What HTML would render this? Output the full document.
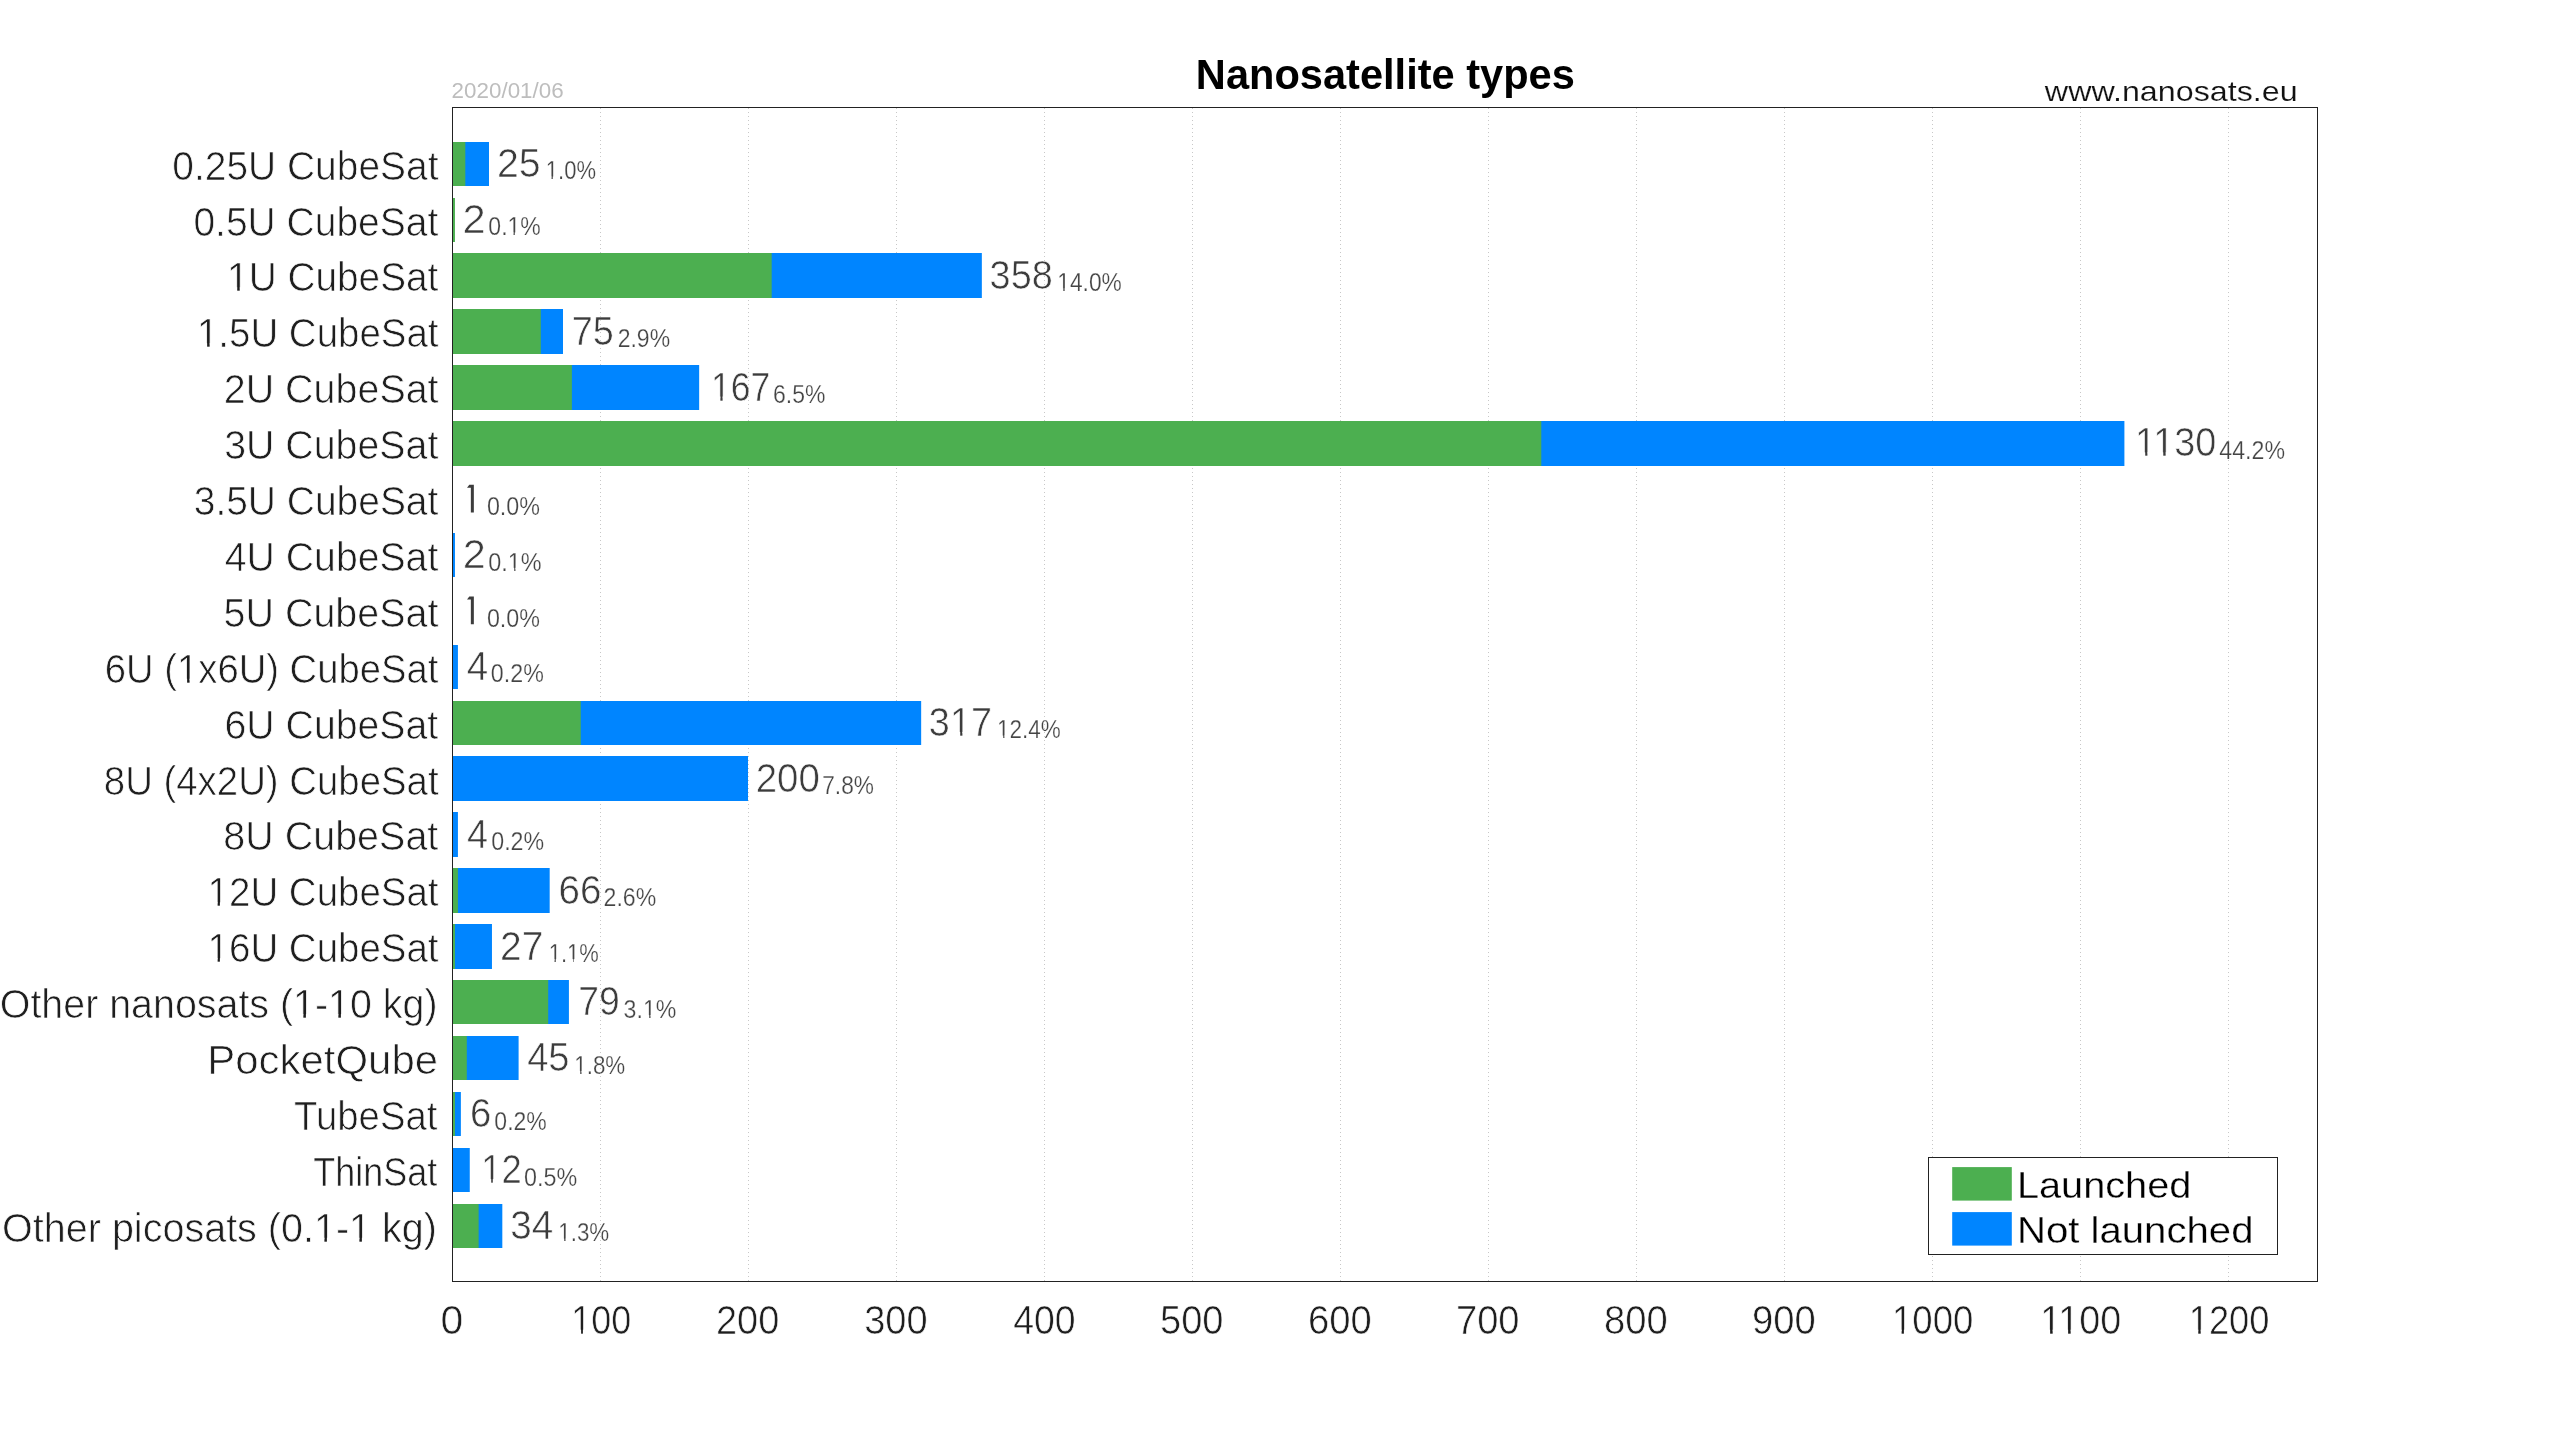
<!DOCTYPE html><html><head><meta charset="utf-8"><title>Nanosatellite types</title>
<style>html,body{margin:0;padding:0;background:#fff;width:2560px;height:1440px;overflow:hidden}svg{display:block}text{font-family:"Liberation Sans",sans-serif;white-space:pre}</style></head><body>
<svg width="2560" height="1440" viewBox="0 0 2560 1440" style="will-change:transform">
<rect x="0" y="0" width="2560" height="1440" fill="#fff"/>
<g shape-rendering="crispEdges"><line x1="600.5" y1="108" x2="600.5" y2="1281" stroke="#c8c8c8" stroke-width="1" stroke-dasharray="1 3"/><line x1="748.5" y1="108" x2="748.5" y2="1281" stroke="#c8c8c8" stroke-width="1" stroke-dasharray="1 3"/><line x1="896.5" y1="108" x2="896.5" y2="1281" stroke="#c8c8c8" stroke-width="1" stroke-dasharray="1 3"/><line x1="1044.5" y1="108" x2="1044.5" y2="1281" stroke="#c8c8c8" stroke-width="1" stroke-dasharray="1 3"/><line x1="1192.5" y1="108" x2="1192.5" y2="1281" stroke="#c8c8c8" stroke-width="1" stroke-dasharray="1 3"/><line x1="1340.5" y1="108" x2="1340.5" y2="1281" stroke="#c8c8c8" stroke-width="1" stroke-dasharray="1 3"/><line x1="1488.5" y1="108" x2="1488.5" y2="1281" stroke="#c8c8c8" stroke-width="1" stroke-dasharray="1 3"/><line x1="1636.5" y1="108" x2="1636.5" y2="1281" stroke="#c8c8c8" stroke-width="1" stroke-dasharray="1 3"/><line x1="1784.5" y1="108" x2="1784.5" y2="1281" stroke="#c8c8c8" stroke-width="1" stroke-dasharray="1 3"/><line x1="1932.5" y1="108" x2="1932.5" y2="1281" stroke="#c8c8c8" stroke-width="1" stroke-dasharray="1 3"/><line x1="2080.5" y1="108" x2="2080.5" y2="1281" stroke="#c8c8c8" stroke-width="1" stroke-dasharray="1 3"/><line x1="2228.5" y1="108" x2="2228.5" y2="1281" stroke="#c8c8c8" stroke-width="1" stroke-dasharray="1 3"/></g>
<g><rect x="452.00" y="142" width="37.00" height="44" fill="#0085ff"/><rect x="452.00" y="142" width="13.32" height="44" fill="#4caf50"/><rect x="452.00" y="198" width="2.96" height="44" fill="#4caf50"/><rect x="452.00" y="253" width="529.84" height="45" fill="#0085ff"/><rect x="452.00" y="253" width="319.68" height="45" fill="#4caf50"/><rect x="452.00" y="309" width="111.00" height="45" fill="#0085ff"/><rect x="452.00" y="309" width="88.80" height="45" fill="#4caf50"/><rect x="452.00" y="365" width="247.16" height="45" fill="#0085ff"/><rect x="452.00" y="365" width="119.88" height="45" fill="#4caf50"/><rect x="452.00" y="421" width="1672.40" height="45" fill="#0085ff"/><rect x="452.00" y="421" width="1089.28" height="45" fill="#4caf50"/><rect x="452.00" y="533" width="2.96" height="44" fill="#0085ff"/><rect x="452.00" y="645" width="5.92" height="44" fill="#0085ff"/><rect x="452.00" y="701" width="469.16" height="44" fill="#0085ff"/><rect x="452.00" y="701" width="128.76" height="44" fill="#4caf50"/><rect x="452.00" y="756" width="296.00" height="45" fill="#0085ff"/><rect x="452.00" y="812" width="5.92" height="45" fill="#0085ff"/><rect x="452.00" y="868" width="97.68" height="45" fill="#0085ff"/><rect x="452.00" y="868" width="5.92" height="45" fill="#4caf50"/><rect x="452.00" y="924" width="39.96" height="45" fill="#0085ff"/><rect x="452.00" y="924" width="2.96" height="45" fill="#4caf50"/><rect x="452.00" y="980" width="116.92" height="44" fill="#0085ff"/><rect x="452.00" y="980" width="96.20" height="44" fill="#4caf50"/><rect x="452.00" y="1036" width="66.60" height="44" fill="#0085ff"/><rect x="452.00" y="1036" width="14.80" height="44" fill="#4caf50"/><rect x="452.00" y="1092" width="8.88" height="44" fill="#0085ff"/><rect x="452.00" y="1092" width="2.96" height="44" fill="#4caf50"/><rect x="452.00" y="1148" width="17.76" height="44" fill="#0085ff"/><rect x="452.00" y="1204" width="50.32" height="44" fill="#0085ff"/><rect x="452.00" y="1204" width="26.64" height="44" fill="#4caf50"/></g>
<rect x="452.5" y="107.5" width="1865" height="1174" fill="none" stroke="#222" stroke-width="1" shape-rendering="crispEdges"/>
<rect x="1928.5" y="1157.5" width="349" height="97" fill="#fff" stroke="#222" stroke-width="1" shape-rendering="crispEdges"/>
<rect x="1952.2" y="1167.1" width="59.6" height="33.5" fill="#4caf50"/>
<rect x="1952.2" y="1212.1" width="59.6" height="33.5" fill="#0085ff"/>
<text x="172.34" y="179.65" font-size="40" fill="#1e1e1e" stroke="#fff" stroke-width="0.7" textLength="266.13" lengthAdjust="spacingAndGlyphs">0.25U CubeSat</text>
<text x="496.96" y="176.90" font-size="40" fill="#3c3c3c" stroke="#fff" stroke-width="0.6" textLength="43.62" lengthAdjust="spacingAndGlyphs">25</text>
<text x="545.87" y="179.32" font-size="25.7" fill="#444444" stroke="#fff" stroke-width="0.25" textLength="50.17" lengthAdjust="spacingAndGlyphs">1.0%</text>
<text x="193.45" y="235.55" font-size="40" fill="#1e1e1e" stroke="#fff" stroke-width="0.7" textLength="244.82" lengthAdjust="spacingAndGlyphs">0.5U CubeSat</text>
<text x="462.55" y="232.80" font-size="40" fill="#3c3c3c" stroke="#fff" stroke-width="0.6" textLength="23.13" lengthAdjust="spacingAndGlyphs">2</text>
<text x="488.35" y="235.22" font-size="25.7" fill="#444444" stroke="#fff" stroke-width="0.25" textLength="52.44" lengthAdjust="spacingAndGlyphs">0.1%</text>
<text x="227.09" y="291.45" font-size="40" fill="#1e1e1e" stroke="#fff" stroke-width="0.7" textLength="211.30" lengthAdjust="spacingAndGlyphs">1U CubeSat</text>
<text x="989.60" y="288.70" font-size="40" fill="#3c3c3c" stroke="#fff" stroke-width="0.6" textLength="63.17" lengthAdjust="spacingAndGlyphs">358</text>
<text x="1057.25" y="291.12" font-size="25.7" fill="#444444" stroke="#fff" stroke-width="0.25" textLength="64.53" lengthAdjust="spacingAndGlyphs">14.0%</text>
<text x="196.92" y="347.35" font-size="40" fill="#1e1e1e" stroke="#fff" stroke-width="0.7" textLength="241.65" lengthAdjust="spacingAndGlyphs">1.5U CubeSat</text>
<text x="571.75" y="344.60" font-size="40" fill="#3c3c3c" stroke="#fff" stroke-width="0.6" textLength="42.11" lengthAdjust="spacingAndGlyphs">75</text>
<text x="617.69" y="347.02" font-size="25.7" fill="#444444" stroke="#fff" stroke-width="0.25" textLength="52.43" lengthAdjust="spacingAndGlyphs">2.9%</text>
<text x="223.78" y="403.25" font-size="40" fill="#1e1e1e" stroke="#fff" stroke-width="0.7" textLength="214.80" lengthAdjust="spacingAndGlyphs">2U CubeSat</text>
<text x="711.00" y="400.50" font-size="40" fill="#3c3c3c" stroke="#fff" stroke-width="0.6" textLength="59.17" lengthAdjust="spacingAndGlyphs">167</text>
<text x="772.97" y="402.92" font-size="25.7" fill="#444444" stroke="#fff" stroke-width="0.25" textLength="52.39" lengthAdjust="spacingAndGlyphs">6.5%</text>
<text x="224.14" y="459.15" font-size="40" fill="#1e1e1e" stroke="#fff" stroke-width="0.7" textLength="214.27" lengthAdjust="spacingAndGlyphs">3U CubeSat</text>
<text x="2134.97" y="456.40" font-size="40" fill="#3c3c3c" stroke="#fff" stroke-width="0.6" textLength="81.30" lengthAdjust="spacingAndGlyphs">1130</text>
<text x="2219.33" y="458.82" font-size="25.7" fill="#444444" stroke="#fff" stroke-width="0.25" textLength="65.65" lengthAdjust="spacingAndGlyphs">44.2%</text>
<text x="193.76" y="515.05" font-size="40" fill="#1e1e1e" stroke="#fff" stroke-width="0.7" textLength="244.58" lengthAdjust="spacingAndGlyphs">3.5U CubeSat</text>
<path d="M470.85 484.80H473.85V512.40H470.85V487.80H467.0L469.3 484.80Z" fill="#3c3c3c"/>
<text x="486.92" y="514.72" font-size="25.7" fill="#444444" stroke="#fff" stroke-width="0.25" textLength="53.12" lengthAdjust="spacingAndGlyphs">0.0%</text>
<text x="224.79" y="570.95" font-size="40" fill="#1e1e1e" stroke="#fff" stroke-width="0.7" textLength="213.53" lengthAdjust="spacingAndGlyphs">4U CubeSat</text>
<text x="462.75" y="568.20" font-size="40" fill="#3c3c3c" stroke="#fff" stroke-width="0.6" textLength="23.01" lengthAdjust="spacingAndGlyphs">2</text>
<text x="488.13" y="570.62" font-size="25.7" fill="#444444" stroke="#fff" stroke-width="0.25" textLength="53.38" lengthAdjust="spacingAndGlyphs">0.1%</text>
<text x="223.56" y="626.85" font-size="40" fill="#1e1e1e" stroke="#fff" stroke-width="0.7" textLength="214.85" lengthAdjust="spacingAndGlyphs">5U CubeSat</text>
<path d="M470.85 596.60H473.85V624.20H470.85V599.60H467.0L469.3 596.60Z" fill="#3c3c3c"/>
<text x="486.92" y="626.52" font-size="25.7" fill="#444444" stroke="#fff" stroke-width="0.25" textLength="53.12" lengthAdjust="spacingAndGlyphs">0.0%</text>
<text x="104.79" y="682.75" font-size="40" fill="#1e1e1e" stroke="#fff" stroke-width="0.7" textLength="333.59" lengthAdjust="spacingAndGlyphs">6U (1x6U) CubeSat</text>
<text x="466.74" y="680.00" font-size="40" fill="#3c3c3c" stroke="#fff" stroke-width="0.6" textLength="21.43" lengthAdjust="spacingAndGlyphs">4</text>
<text x="490.85" y="682.42" font-size="25.7" fill="#444444" stroke="#fff" stroke-width="0.25" textLength="52.98" lengthAdjust="spacingAndGlyphs">0.2%</text>
<text x="224.51" y="738.65" font-size="40" fill="#1e1e1e" stroke="#fff" stroke-width="0.7" textLength="213.78" lengthAdjust="spacingAndGlyphs">6U CubeSat</text>
<text x="928.86" y="735.90" font-size="40" fill="#3c3c3c" stroke="#fff" stroke-width="0.6" textLength="63.13" lengthAdjust="spacingAndGlyphs">317</text>
<text x="996.92" y="738.33" font-size="25.7" fill="#444444" stroke="#fff" stroke-width="0.25" textLength="63.71" lengthAdjust="spacingAndGlyphs">12.4%</text>
<text x="103.84" y="794.55" font-size="40" fill="#1e1e1e" stroke="#fff" stroke-width="0.7" textLength="334.71" lengthAdjust="spacingAndGlyphs">8U (4x2U) CubeSat</text>
<text x="755.66" y="791.80" font-size="40" fill="#3c3c3c" stroke="#fff" stroke-width="0.6" textLength="64.14" lengthAdjust="spacingAndGlyphs">200</text>
<text x="822.23" y="794.22" font-size="25.7" fill="#444444" stroke="#fff" stroke-width="0.25" textLength="51.71" lengthAdjust="spacingAndGlyphs">7.8%</text>
<text x="223.31" y="850.45" font-size="40" fill="#1e1e1e" stroke="#fff" stroke-width="0.7" textLength="215.03" lengthAdjust="spacingAndGlyphs">8U CubeSat</text>
<text x="467.02" y="847.70" font-size="40" fill="#3c3c3c" stroke="#fff" stroke-width="0.6" textLength="21.02" lengthAdjust="spacingAndGlyphs">4</text>
<text x="491.22" y="850.12" font-size="25.7" fill="#444444" stroke="#fff" stroke-width="0.25" textLength="52.91" lengthAdjust="spacingAndGlyphs">0.2%</text>
<text x="207.61" y="906.35" font-size="40" fill="#1e1e1e" stroke="#fff" stroke-width="0.7" textLength="230.95" lengthAdjust="spacingAndGlyphs">12U CubeSat</text>
<text x="558.62" y="903.60" font-size="40" fill="#3c3c3c" stroke="#fff" stroke-width="0.6" textLength="42.91" lengthAdjust="spacingAndGlyphs">66</text>
<text x="603.59" y="906.02" font-size="25.7" fill="#444444" stroke="#fff" stroke-width="0.25" textLength="52.69" lengthAdjust="spacingAndGlyphs">2.6%</text>
<text x="207.61" y="962.25" font-size="40" fill="#1e1e1e" stroke="#fff" stroke-width="0.7" textLength="230.95" lengthAdjust="spacingAndGlyphs">16U CubeSat</text>
<text x="500.09" y="959.50" font-size="40" fill="#3c3c3c" stroke="#fff" stroke-width="0.6" textLength="43.31" lengthAdjust="spacingAndGlyphs">27</text>
<text x="548.78" y="961.92" font-size="25.7" fill="#444444" stroke="#fff" stroke-width="0.25" textLength="50.06" lengthAdjust="spacingAndGlyphs">1.1%</text>
<text x="-0.26" y="1018.15" font-size="40" fill="#1e1e1e" stroke="#fff" stroke-width="0.7" textLength="437.79" lengthAdjust="spacingAndGlyphs">Other nanosats (1-10 kg)</text>
<text x="578.35" y="1015.40" font-size="40" fill="#3c3c3c" stroke="#fff" stroke-width="0.6" textLength="41.49" lengthAdjust="spacingAndGlyphs">79</text>
<text x="623.60" y="1017.83" font-size="25.7" fill="#444444" stroke="#fff" stroke-width="0.25" textLength="52.76" lengthAdjust="spacingAndGlyphs">3.1%</text>
<text x="207.33" y="1074.05" font-size="40" fill="#1e1e1e" stroke="#fff" stroke-width="0.7" textLength="230.74" lengthAdjust="spacingAndGlyphs">PocketQube</text>
<text x="527.15" y="1071.30" font-size="40" fill="#3c3c3c" stroke="#fff" stroke-width="0.6" textLength="42.38" lengthAdjust="spacingAndGlyphs">45</text>
<text x="574.27" y="1073.72" font-size="25.7" fill="#444444" stroke="#fff" stroke-width="0.25" textLength="50.99" lengthAdjust="spacingAndGlyphs">1.8%</text>
<text x="293.99" y="1129.95" font-size="40" fill="#1e1e1e" stroke="#fff" stroke-width="0.7" textLength="143.41" lengthAdjust="spacingAndGlyphs">TubeSat</text>
<text x="469.91" y="1127.20" font-size="40" fill="#3c3c3c" stroke="#fff" stroke-width="0.6" textLength="21.27" lengthAdjust="spacingAndGlyphs">6</text>
<text x="494.35" y="1129.62" font-size="25.7" fill="#444444" stroke="#fff" stroke-width="0.25" textLength="52.44" lengthAdjust="spacingAndGlyphs">0.2%</text>
<text x="313.20" y="1185.85" font-size="40" fill="#1e1e1e" stroke="#fff" stroke-width="0.7" textLength="124.03" lengthAdjust="spacingAndGlyphs">ThinSat</text>
<text x="481.17" y="1183.10" font-size="40" fill="#3c3c3c" stroke="#fff" stroke-width="0.6" textLength="40.52" lengthAdjust="spacingAndGlyphs">12</text>
<text x="524.03" y="1185.52" font-size="25.7" fill="#444444" stroke="#fff" stroke-width="0.25" textLength="53.21" lengthAdjust="spacingAndGlyphs">0.5%</text>
<text x="2.05" y="1241.75" font-size="40" fill="#1e1e1e" stroke="#fff" stroke-width="0.7" textLength="434.95" lengthAdjust="spacingAndGlyphs">Other picosats (0.1-1 kg)</text>
<text x="510.18" y="1239.00" font-size="40" fill="#3c3c3c" stroke="#fff" stroke-width="0.6" textLength="43.02" lengthAdjust="spacingAndGlyphs">34</text>
<text x="558.27" y="1241.42" font-size="25.7" fill="#444444" stroke="#fff" stroke-width="0.25" textLength="50.99" lengthAdjust="spacingAndGlyphs">1.3%</text>
<text x="440.57" y="1333.70" font-size="40" fill="#1e1e1e" stroke="#fff" stroke-width="0.6" textLength="22.77" lengthAdjust="spacingAndGlyphs">0</text>
<text x="571.30" y="1333.70" font-size="40" fill="#1e1e1e" stroke="#fff" stroke-width="0.6" textLength="59.89" lengthAdjust="spacingAndGlyphs">100</text>
<text x="715.96" y="1333.70" font-size="40" fill="#1e1e1e" stroke="#fff" stroke-width="0.6" textLength="63.32" lengthAdjust="spacingAndGlyphs">200</text>
<text x="864.13" y="1333.70" font-size="40" fill="#1e1e1e" stroke="#fff" stroke-width="0.6" textLength="63.45" lengthAdjust="spacingAndGlyphs">300</text>
<text x="1013.16" y="1333.70" font-size="40" fill="#1e1e1e" stroke="#fff" stroke-width="0.6" textLength="62.44" lengthAdjust="spacingAndGlyphs">400</text>
<text x="1159.99" y="1333.70" font-size="40" fill="#1e1e1e" stroke="#fff" stroke-width="0.6" textLength="63.51" lengthAdjust="spacingAndGlyphs">500</text>
<text x="1308.07" y="1333.70" font-size="40" fill="#1e1e1e" stroke="#fff" stroke-width="0.6" textLength="63.73" lengthAdjust="spacingAndGlyphs">600</text>
<text x="1455.99" y="1333.70" font-size="40" fill="#1e1e1e" stroke="#fff" stroke-width="0.6" textLength="63.53" lengthAdjust="spacingAndGlyphs">700</text>
<text x="1604.10" y="1333.70" font-size="40" fill="#1e1e1e" stroke="#fff" stroke-width="0.6" textLength="63.73" lengthAdjust="spacingAndGlyphs">800</text>
<text x="1752.04" y="1333.70" font-size="40" fill="#1e1e1e" stroke="#fff" stroke-width="0.6" textLength="63.72" lengthAdjust="spacingAndGlyphs">900</text>
<text x="1891.99" y="1333.70" font-size="40" fill="#1e1e1e" stroke="#fff" stroke-width="0.6" textLength="81.30" lengthAdjust="spacingAndGlyphs">1000</text>
<text x="2040.17" y="1333.70" font-size="40" fill="#1e1e1e" stroke="#fff" stroke-width="0.6" textLength="81.08" lengthAdjust="spacingAndGlyphs">1100</text>
<text x="2188.73" y="1333.70" font-size="40" fill="#1e1e1e" stroke="#fff" stroke-width="0.6" textLength="80.75" lengthAdjust="spacingAndGlyphs">1200</text>
<text x="1195.87" y="88.90" font-size="43" font-weight="bold" fill="#000" textLength="379.00" lengthAdjust="spacingAndGlyphs">Nanosatellite types</text>
<text x="451.63" y="97.90" font-size="21.5" fill="#bdbdbd" textLength="112.03" lengthAdjust="spacingAndGlyphs">2020/01/06</text>
<text x="2044.89" y="100.58" font-size="28" fill="#111" stroke="#fff" stroke-width="0.15" textLength="252.75" lengthAdjust="spacingAndGlyphs">www.nanosats.eu</text>
<text x="2016.93" y="1198.05" font-size="37.5" fill="#000" stroke="#fff" stroke-width="0.3" textLength="174.41" lengthAdjust="spacingAndGlyphs">Launched</text>
<text x="2016.98" y="1242.95" font-size="37.5" fill="#000" stroke="#fff" stroke-width="0.3" textLength="236.51" lengthAdjust="spacingAndGlyphs">Not launched</text>
<g fill="#fff"><rect x="544.87" y="176.54" width="6.68" height="4.18"/><rect x="552.76" y="176.54" width="6.36" height="4.18"/><rect x="506.53" y="232.44" width="7.02" height="4.18"/><rect x="514.76" y="232.44" width="6.57" height="4.18"/><rect x="226.09" y="287.45" width="11.12" height="5.40"/><rect x="239.72" y="287.45" width="9.94" height="5.40"/><rect x="1056.25" y="288.34" width="7.06" height="4.18"/><rect x="1064.64" y="288.34" width="6.27" height="4.18"/><rect x="195.92" y="343.35" width="11.21" height="5.40"/><rect x="209.64" y="343.35" width="9.68" height="5.40"/><rect x="710.00" y="396.50" width="10.38" height="5.40"/><rect x="722.60" y="396.50" width="9.12" height="5.40"/><rect x="2133.97" y="452.40" width="11.24" height="5.40"/><rect x="2147.40" y="452.40" width="6.80" height="5.40"/><rect x="2152.18" y="452.40" width="11.08" height="5.40"/><rect x="2165.63" y="452.40" width="9.60" height="5.40"/><rect x="506.66" y="567.84" width="7.58" height="4.18"/><rect x="515.44" y="567.84" width="6.25" height="4.18"/><rect x="176.01" y="678.75" width="11.10" height="5.40"/><rect x="189.58" y="678.75" width="9.69" height="5.40"/><rect x="948.89" y="731.90" width="11.32" height="5.40"/><rect x="962.40" y="731.90" width="9.55" height="5.40"/><rect x="995.92" y="735.55" width="7.32" height="4.18"/><rect x="1004.41" y="735.55" width="6.01" height="4.18"/><rect x="206.61" y="902.35" width="11.01" height="5.40"/><rect x="219.89" y="902.35" width="10.11" height="5.40"/><rect x="206.61" y="958.25" width="11.01" height="5.40"/><rect x="219.89" y="958.25" width="10.11" height="5.40"/><rect x="547.78" y="959.14" width="6.76" height="4.18"/><rect x="555.76" y="959.14" width="6.24" height="4.18"/><rect x="566.09" y="959.14" width="7.15" height="4.18"/><rect x="573.76" y="959.14" width="6.55" height="4.18"/><rect x="292.05" y="1014.15" width="11.30" height="5.40"/><rect x="305.89" y="1014.15" width="10.08" height="5.40"/><rect x="327.06" y="1014.15" width="11.29" height="5.40"/><rect x="340.89" y="1014.15" width="10.09" height="5.40"/><rect x="641.90" y="1015.05" width="7.34" height="4.18"/><rect x="650.52" y="1015.05" width="6.26" height="4.18"/><rect x="573.27" y="1070.94" width="6.97" height="4.18"/><rect x="581.51" y="1070.94" width="6.21" height="4.18"/><rect x="480.17" y="1179.10" width="11.04" height="5.40"/><rect x="492.79" y="1179.10" width="9.64" height="5.40"/><rect x="312.97" y="1237.75" width="11.42" height="5.40"/><rect x="326.89" y="1237.75" width="10.07" height="5.40"/><rect x="348.12" y="1237.75" width="11.26" height="5.40"/><rect x="361.89" y="1237.75" width="10.21" height="5.40"/><rect x="557.27" y="1238.64" width="6.97" height="4.18"/><rect x="565.51" y="1238.64" width="6.21" height="4.18"/><rect x="570.30" y="1329.70" width="10.81" height="5.40"/><rect x="582.89" y="1329.70" width="9.37" height="5.40"/><rect x="1890.99" y="1329.70" width="10.61" height="5.40"/><rect x="1903.89" y="1329.70" width="9.42" height="5.40"/><rect x="2039.17" y="1329.70" width="10.95" height="5.40"/><rect x="2052.67" y="1329.70" width="6.67" height="5.40"/><rect x="2057.33" y="1329.70" width="10.79" height="5.40"/><rect x="2070.67" y="1329.70" width="9.65" height="5.40"/><rect x="2187.73" y="1329.70" width="10.53" height="5.40"/><rect x="2200.70" y="1329.70" width="9.22" height="5.40"/></g>
</svg></body></html>
